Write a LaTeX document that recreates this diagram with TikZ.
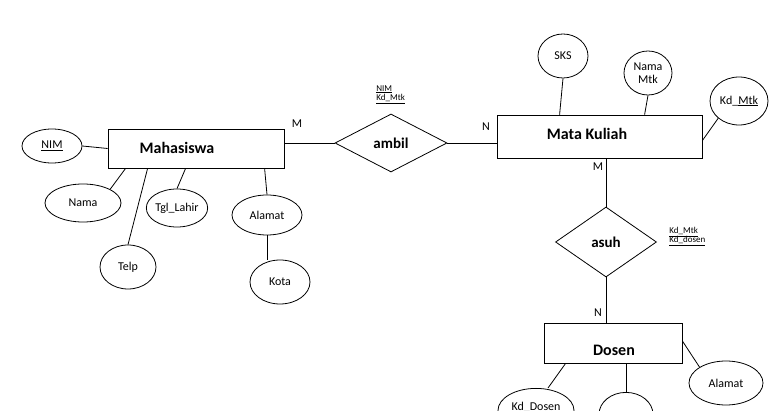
\documentclass[tikz,border=0pt]{standalone}
\usepackage{fontspec}
\setmainfont{Carlito}
\usetikzlibrary{shapes.geometric}
\begin{document}
\begin{tikzpicture}[x=1pt,y=-1pt,line width=0.8pt,
  ent/.style={draw,rectangle},
  ttl/.style={font=\bfseries\fontsize{16}{18}\selectfont},
  att/.style={draw,ellipse,font=\fontsize{12}{13}\selectfont,inner sep=0pt},
  rel/.style={draw,diamond,aspect=1.9,inner sep=0pt,font=\bfseries\fontsize{15}{17}\selectfont},
  lbl/.style={font=\fontsize{12}{13}\selectfont},
  key/.style={font=\fontsize{9}{10}\selectfont,align=left,inner sep=0pt,anchor=north west}]
\useasboundingbox (0,0) rectangle (782,411);
\node[ent,minimum width=176pt,minimum height=39pt] (mhs) at (196,148.5) {};
\node[ttl] (mhst) at (177,148) {Mahasiswa};
\node[att,minimum width=60pt,minimum height=34pt] (nim) at (52,146) {\underline{NIM}};
\node[att,minimum width=76pt,minimum height=38pt] (nama) at (83,203) {Nama};
\node[att,minimum width=56pt,minimum height=44pt] (telp) at (128,267) {Telp};
\node[att,minimum width=60pt,minimum height=38pt] (tgl) at (177,208) {Tgl\_Lahir};
\node[att,minimum width=70pt,minimum height=40pt] (alm) at (267,215) {Alamat};
\node[att,minimum width=60pt,minimum height=44pt] (kota) at (280,282) {Kota};
\draw (nim.east) -- (mhs.west);
\draw ([xshift=18pt]mhs.south west) -- (nama.north east);
\draw ([xshift=40pt]mhs.south west) -- (telp.north);
\draw ([xshift=78pt]mhs.south west) -- (tgl.north);
\draw ([xshift=157pt]mhs.south west) -- (alm.north);
\draw (alm.south) -- (kota.north-|alm.south);
\node[rel,minimum width=112pt,minimum height=58pt] (ambil) at (391,143) {ambil};
\node[key] (ak) at (376,85) {\underline{NIM}\\[-1pt]\underline{Kd\_Mtk}};
\node[ent,minimum width=205pt,minimum height=43pt] (mk) at (599.5,136.5) {};
\node[ttl] (mkt) at (587,134) {Mata Kuliah};
\draw (mhs.east|-ambil) -- (ambil.west);
\draw (ambil.east) -- (mk.west|-ambil);
\node[lbl] (m1) at (297,124) {M};
\node[lbl] (n1) at (486,127) {N};
\node[att,minimum width=50pt,minimum height=44pt] (sks) at (563,56) {SKS};
\node[att,minimum width=48pt,minimum height=44pt,align=center] (nmk) at (648,73) {Nama\\Mtk};
\node[att,minimum width=58pt,minimum height=48pt] (kdm) at (739,101) {Kd\_\underline{Mtk}};
\draw ([xshift=63pt]mk.north west) -- (sks.south);
\draw ([xshift=148pt]mk.north west) -- (nmk.south);
\draw ([yshift=-4pt]mk.east) -- (kdm.south west);
\node[rel,minimum width=101pt,minimum height=70pt,aspect=1.45] (asuh) at (606,242) {asuh};
\node[key] (ask) at (669,227) {\underline{Kd\_Mtk}\\[-1pt]\underline{Kd\_dosen}};
\node[ent,minimum width=138pt,minimum height=40pt] (dos) at (613,343) {};
\node[ttl] (dost) at (614,350) {Dosen};
\draw (mk.south-|asuh) -- (asuh.north);
\draw (asuh.south) -- (dos.north-|asuh);
\node[lbl] (m2) at (598,167) {M};
\node[lbl] (n2) at (598,313) {N};
\node[att,minimum width=74pt,minimum height=44pt] (dalm) at (726,383) {Alamat};
\node[att,minimum width=76pt,minimum height=44pt,anchor=north] (kdd) at (536,388) {\raisebox{9pt}{Kd\_Dosen}};
\node[att,minimum width=54pt,minimum height=44pt,anchor=north] (dx) at (626,392) {};
\draw ([yshift=2pt]dos.east) -- (dalm.north west);
\draw ([xshift=22pt]dos.south west) -- ([xshift=12pt]kdd.north);
\draw (dos.south-|dx.north) -- (dx.north);
\end{tikzpicture}
\end{document}
